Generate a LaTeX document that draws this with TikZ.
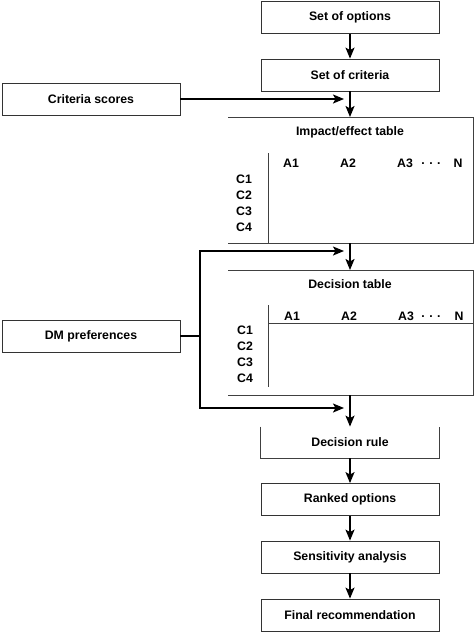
\documentclass[tikz,border=0pt]{standalone}
\usepackage{fontspec}
\setmainfont{Liberation Sans}
\usetikzlibrary{arrows.meta,positioning}

\begin{document}
\begin{tikzpicture}[x=1pt, y=-1pt, >={Stealth[length=11pt,width=9pt,inset=2.5pt]}]

\tikzstyle{every node}=[font=\bfseries\fontsize{12.3}{14}\selectfont, inner sep=0pt]
\tikzstyle{stage}=[draw=black!80, line width=0.8pt, minimum width=178pt, minimum height=32pt]
\tikzstyle{flow}=[->, line width=1.6pt]
\tikzstyle{feed}=[line width=1.6pt]
\tikzstyle{rule}=[draw=black!75, line width=0.7pt]

\useasboundingbox (0,0) rectangle (474,632);

% main chain
\node[stage] (options) at (350,17.5) {Set of options};
\node[stage] (criteria) at (350,75) {Set of criteria};
\node[stage, draw=none, minimum height=31pt] (rule) at (350,442.5) {Decision rule};
\node[stage] (ranked) at (350,499.5) {Ranked options};
\node[stage] (sens) at (350,557) {Sensitivity analysis};
\node[stage] (final) at (350,615) {Final recommendation};
\draw[rule] (rule.north west) -- (rule.south west) -- (rule.south east) -- (rule.north east);

% inputs
\node[stage] (scores) at (91,99) {Criteria scores};
\node[stage] (prefs) at (91,336) {DM preferences};

% impact/effect table
\coordinate (imptop) at (350,117);
\coordinate (impbot) at (350,243);
\draw[rule] (228,117) -- (473,117) -- (473,243) -- (228,243);
\draw[rule] (268,153) -- (268,243);
\node (imptitle) at (350,132) {Impact/effect table};
\foreach \lab/\x in {A1/291,A2/348,A3/405,N/458}
  \node at (\x,163) {\lab};
\node at (431,164) {.\hspace{4.5pt}.\hspace{4.5pt}.};
\foreach \i/\y in {1/179,2/195,3/211,4/227}
  \node at (244,\y) {C\i};

% decision table
\coordinate (dectop) at (350,270);
\coordinate (decbot) at (350,395);
\draw[rule] (228,270) -- (473,270) -- (473,395) -- (228,395);
\draw[rule] (268,305) -- (268,387);
\draw[rule] (268,323) -- (473,323);
\node (dectitle) at (350,284) {Decision table};
\foreach \lab/\x in {A1/292,A2/349,A3/406,N/459}
  \node at (\x,316) {\lab};
\node at (431,317) {.\hspace{4.5pt}.\hspace{4.5pt}.};
\foreach \i/\y in {1/330,2/346,3/362,4/378}
  \node at (245,\y) {C\i};

% connectors
\coordinate (scorejoin) at (344,99);
\coordinate (split) at (200,336);
\coordinate (decjoin) at (344,251);
\coordinate (rulejoin) at (344,408);

\draw[flow] (options) -- (criteria);
\draw[flow] (criteria) -- (imptop);
\draw[flow] (scores) -- (scorejoin);
\draw[flow] (impbot) -- (dectop);
\draw[flow] (decbot) -- (rule.north);
\draw[feed] (prefs) -- (split);
\draw[flow] (split) |- (decjoin);
\draw[flow] (split) |- (rulejoin);
\draw[flow] (rule) -- (ranked);
\draw[flow] (ranked) -- (sens);
\draw[flow] (sens) -- (final);

\end{tikzpicture}
\end{document}
